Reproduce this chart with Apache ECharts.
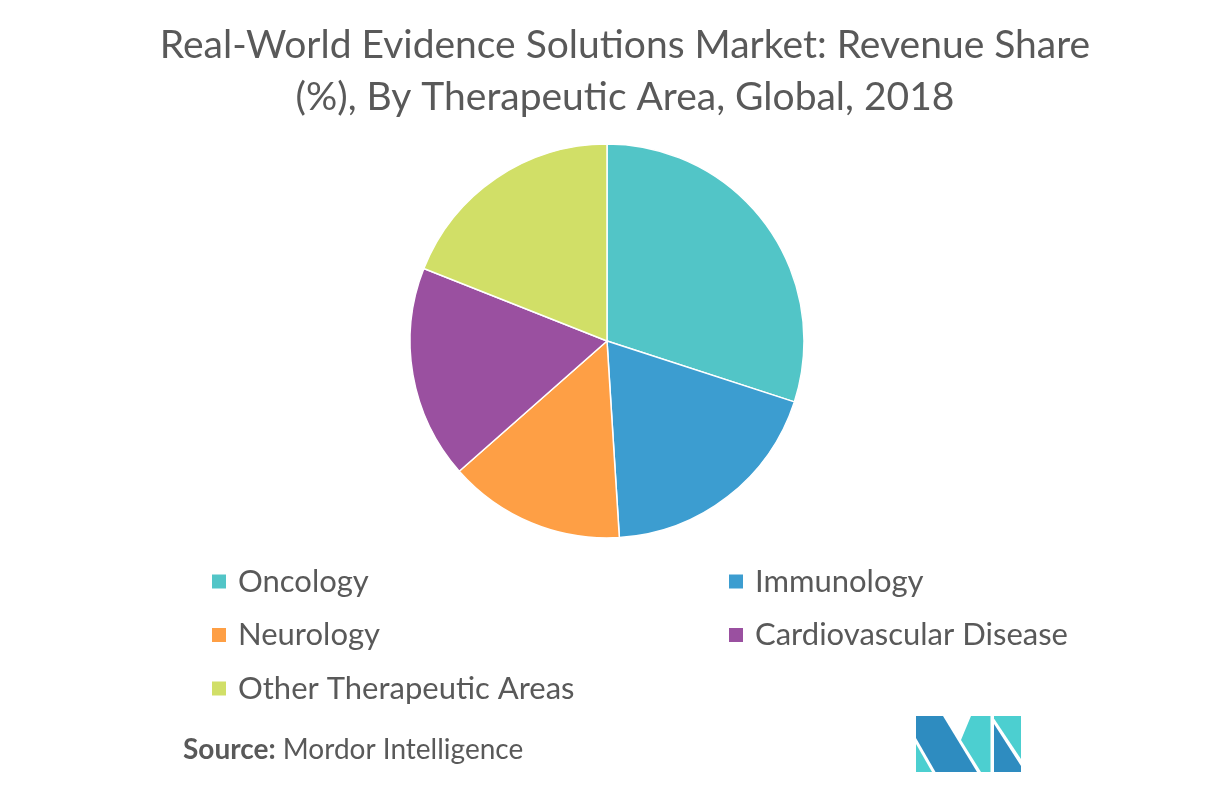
<!DOCTYPE html>
<html><head><meta charset="utf-8">
<script src="https://cdn.jsdelivr.net/npm/echarts@6/dist/echarts.min.js"></script>
<style>html,body{margin:0;padding:0;background:#fff}#c{width:1216px;height:785px}</style>
</head><body><div id="c"></div>
<script>
const categories = ['Oncology','Immunology','Neurology','Cardiovascular Disease','Other Therapeutic Areas'];
const shares = [30, 19, 14.5, 17.5, 19];
const colors = ['#52C5C7','#3C9DD0','#FE9F45','#9A50A0','#D1DF67'];
const titleText = 'Real-World Evidence Solutions Market: Revenue Share\n(%), By Therapeutic Area, Global, 2018';
const leftLegend = ['Oncology','Neurology','Other Therapeutic Areas'];
const rightLegend = ['Immunology','Cardiovascular Disease'];

const chart = echarts.init(document.getElementById('c'));
const legendText = {fontFamily:'Lato', fontSize:31, color:'#595959', lineHeight:30, padding:[0,0,0,6]};
const dk = '#2E8CC0', lt = '#4CCFD0';
function poly(pts, fill){ return {type:'polygon', shape:{points:pts}, style:{fill}}; }
chart.setOption({
  animation:false,
  title:{text:titleText, left:620, textAlign:'center', top:14,
    textStyle:{fontFamily:'Lato', fontSize:39, fontWeight:'normal', color:'#595959', lineHeight:52}},
  legend:[
    {data:leftLegend, orient:'vertical', left:205, top:561, itemWidth:16, itemHeight:16, itemGap:22.5, icon:'rect', textStyle:legendText},
    {data:rightLegend, orient:'vertical', left:722, top:561, itemWidth:16, itemHeight:16, itemGap:22.5, icon:'rect', textStyle:legendText}
  ],
  series:[{
    type:'pie', center:[607,341], radius:197, startAngle:90, clockwise:true,
    label:{show:false}, labelLine:{show:false}, emphasis:{disabled:true},
    itemStyle:{borderColor:'#fff', borderWidth:1.5},
    data: categories.map((n,i)=>({name:n, value:shares[i], itemStyle:{color:colors[i]}}))
  }],
  graphic:[
    {type:'text', left:183, top:736, style:{text:'{b|Source:} Mordor Intelligence', fill:'#595959',
      font:'28px Lato', rich:{b:{fontWeight:'bold', fontFamily:'Lato', fontSize:28, fill:'#595959'}}}},
    poly([[916,716],[943,716],[977,772],[935.5,772],[916,738]], dk),
    poly([[916,744],[932,772],[916,772]], lt),
    poly([[971,716],[990.5,716],[990.5,772],[981,772],[961,740]], lt),
    poly([[994,716],[1021,716],[1021,759],[994,718.5]], lt),
    poly([[994,724],[1021,766],[1021,772],[994,772]], dk)
  ]
});
</script></body></html>
